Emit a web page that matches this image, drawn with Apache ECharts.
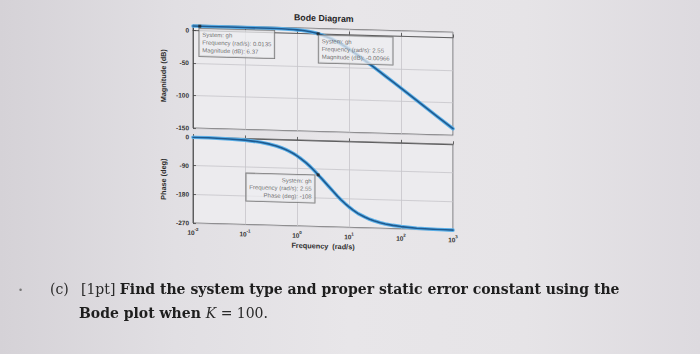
<!DOCTYPE html>
<html><head><meta charset="utf-8">
<script src="https://cdn.jsdelivr.net/npm/echarts@6/dist/echarts.min.js"></script>
<style>
html,body{margin:0;padding:0;width:700px;height:354px;overflow:hidden;}
body{background:linear-gradient(90deg,#d5d2d7 0%,#e1dfe3 25%,#e8e6e9 50%,#e6e4e7 75%,#dddadf 100%);}
#chart{position:absolute;left:0;top:0;width:700px;height:262px;transform:skewY(1.6deg);transform-origin:193px 0;}
#text{position:absolute;left:0;top:262px;width:700px;height:92px;}
</style></head><body>
<div id="chart"></div><div id="text"></div>
<script>
// ---- data ----
const freq      = [0.01,0.02,0.05,0.1,0.2,0.3,0.4,0.5,0.6,0.7,0.85,1,1.2,1.5,1.8,2,2.3,2.55,3,3.5,4,5,6,7,8.5,10,12,15,20,25,30,40,50,70,100,200,500,1000];
const magnitude = [6.4,6.4,6.4,6.4,6.3,6.2,6.1,6.0,5.9,5.7,5.4,5.0,4.5,3.6,2.6,1.9,0.9,0,-1.7,-3.5,-5.2,-8.6,-11.8,-14.7,-18.6,-22.2,-26.3,-31.6,-38.7,-44.3,-48.9,-56.3,-62,-70.8,-80,-98,-122,-140];
const phase     = [-0.6,-1.1,-2.9,-5.2,-10.4,-15.7,-20.8,-25.9,-30.9,-35.9,-43.1,-50,-59,-71.5,-82.9,-90,-99.9,-108,-120,-131.7,-142,-159,-172.9,-184,-196.3,-206,-215.5,-226,-236,-242.8,-247,-252.9,-256,-260,-263,-267,-269,-269.5];
const magTicks   = [0,-50,-100,-150];
const phaseTicks = [0,-90,-180,-270];
const freqTickExp = ['-2','-1','0','1','2','3'];
const tipFreq  = [0.0135, 2.55, 2.55];
const tipValue = [6.37, -0.00966, -108];
const tipText  = ['Magnitude (dB): 6.37', 'Magnitude (dB): -0.00966', 'Phase (deg): -108'];
const tipFreqText = ['0.0135', '2.55', '2.55'];

const FONT = 'Liberation Sans';
const axisColor = '#444';
const gridCommon = {left:193, right:247, show:true, backgroundColor:'#ecebee', borderColor:'#4a4a4a', borderWidth:0.8};
const splitStyle = {lineStyle:{color:'#c6c4c9', width:0.8}};
const tickStyle = {inside:true, length:3, lineStyle:{color:axisColor, width:0.8}};
const lineStyleAxis = {lineStyle:{color:axisColor, width:0.8}};
const nameStyle = {fontFamily:FONT, fontWeight:'bold', fontSize:7.3, color:'#2e2e2e'};
const yLabel = {fontFamily:FONT, fontWeight:'bold', fontSize:6.5, color:'#333', margin:4};

const magData = freq.map((f,i)=>[f, magnitude[i]]);
const phData  = freq.map((f,i)=>[f, phase[i]]);

function lineSeries(data, idx, color, width, z){
  return {type:'line', xAxisIndex:idx, yAxisIndex:idx, data:data, showSymbol:false, smooth:false,
    silent:true, z:z, lineStyle:{color:color, width:width, join:'round', cap:'round'}};
}
function tipSeries(k, idx, pos, align){
  return {type:'scatter', xAxisIndex:idx, yAxisIndex:idx, symbol:'rect', symbolSize:3, z:10,
    itemStyle:{color:'#222'}, silent:true,
    data:[[tipFreq[k], tipValue[k]]],
    label:{show:true, position:pos, align:align, verticalAlign:'top',
      formatter:'System: gh\nFrequency (rad/s): ' + tipFreqText[k] + '\n' + tipText[k],
      fontFamily:FONT, fontSize:6, lineHeight:7.8, color:'#4a4a4a',
      backgroundColor:'rgba(238,237,240,0.92)', borderColor:'#5a5a5a', borderWidth:0.8, padding:[2,3,2,3]}};
}

const chart = echarts.init(document.getElementById('chart'), null, {renderer:'svg'});
chart.setOption({
  animation:false,
  graphic:[{type:'text', top:10, left:294, style:{text:'Bode Diagram', fontFamily:FONT, fontWeight:'bold', fontSize:8.8, fill:'#262626'}}],
  grid:[Object.assign({top:25, height:103}, gridCommon), Object.assign({top:137, height:86}, gridCommon)],
  xAxis:[
    {type:'log', logBase:10, gridIndex:0, min:0.01, max:1000, axisLabel:{show:false}, axisTick:tickStyle, axisLine:lineStyleAxis, splitLine:splitStyle},
    {type:'log', logBase:10, gridIndex:1, min:0.01, max:1000, axisTick:tickStyle, axisLine:lineStyleAxis, splitLine:splitStyle,
      name:'Frequency  (rad/s)', nameLocation:'middle', nameGap:16, nameTextStyle:nameStyle,
      axisLabel:{margin:4, formatter:function(v){ const e = Math.round(Math.log10(v)); const s = freqTickExp[e+2]; return '{b|10}{s|' + (s===undefined?e:s) + '}'; },
        rich:{b:{fontFamily:FONT, fontWeight:'bold', fontSize:6.5, color:'#333', verticalAlign:'bottom', lineHeight:9},
              s:{fontFamily:FONT, fontWeight:'bold', fontSize:4.5, color:'#333', verticalAlign:'top', lineHeight:9}}}}
  ],
  yAxis:[
    {type:'value', gridIndex:0, min:-150, max:8, interval:50, axisTick:tickStyle, axisLine:lineStyleAxis, splitLine:splitStyle,
      axisLabel:Object.assign({formatter:function(v){return magTicks.indexOf(v)>=0 ? String(v) : '';}}, yLabel),
      name:'Magnitude (dB)', nameLocation:'middle', nameGap:26, nameTextStyle:nameStyle},
    {type:'value', gridIndex:1, min:-270, max:0, interval:90, axisTick:tickStyle, axisLine:lineStyleAxis, splitLine:splitStyle,
      axisLabel:Object.assign({formatter:function(v){return phaseTicks.indexOf(v)>=0 ? String(v) : '';}}, yLabel),
      name:'Phase (deg)', nameLocation:'middle', nameGap:26, nameTextStyle:nameStyle}
  ],
  series:[
    lineSeries(magData, 0, '#5cb0e8', 3.6, 2),
    lineSeries(magData, 0, '#1e5a90', 1.6, 3),
    lineSeries(phData, 1, '#5cb0e8', 3.6, 2),
    lineSeries(phData, 1, '#1e5a90', 1.6, 3),
    tipSeries(0, 0, [1,4], 'left'),
    tipSeries(1, 0, [2,3], 'left'),
    tipSeries(2, 1, [-2,2], 'right')
  ]
});

const textChart = echarts.init(document.getElementById('text'), null, {renderer:'canvas'});
const serif = 'DejaVu Serif';
const fs = 14;
textChart.setOption({
  animation:false,
  graphic:[
    {type:'text', x:19, y:29, style:{text:'\u2022', fontSize:9, fill:'#777', verticalAlign:'middle'}},
    {type:'text', x:50, y:28, style:{text:'(c)', fontFamily:serif, fontSize:fs, fill:'#2a2a2a', verticalAlign:'middle'}},
    {type:'text', x:81, y:28, style:{text:'{r|[1pt] }{b|Find the system type and proper static error constant using the}', verticalAlign:'middle',
      rich:{r:{fontFamily:serif, fontSize:fs, fill:'#2a2a2a'}, b:{fontFamily:serif, fontWeight:'bold', fontSize:fs, fill:'#1e1e1e'}}}},
    {type:'text', x:79, y:52, style:{text:'{b|Bode plot when }{i|K}{r| = 100.}', verticalAlign:'middle',
      rich:{r:{fontFamily:serif, fontSize:fs, fill:'#2a2a2a'}, i:{fontFamily:serif, fontStyle:'italic', fontSize:fs, fill:'#2a2a2a'}, b:{fontFamily:serif, fontWeight:'bold', fontSize:fs, fill:'#1e1e1e'}}}}
  ]
});
</script>
</body></html>
